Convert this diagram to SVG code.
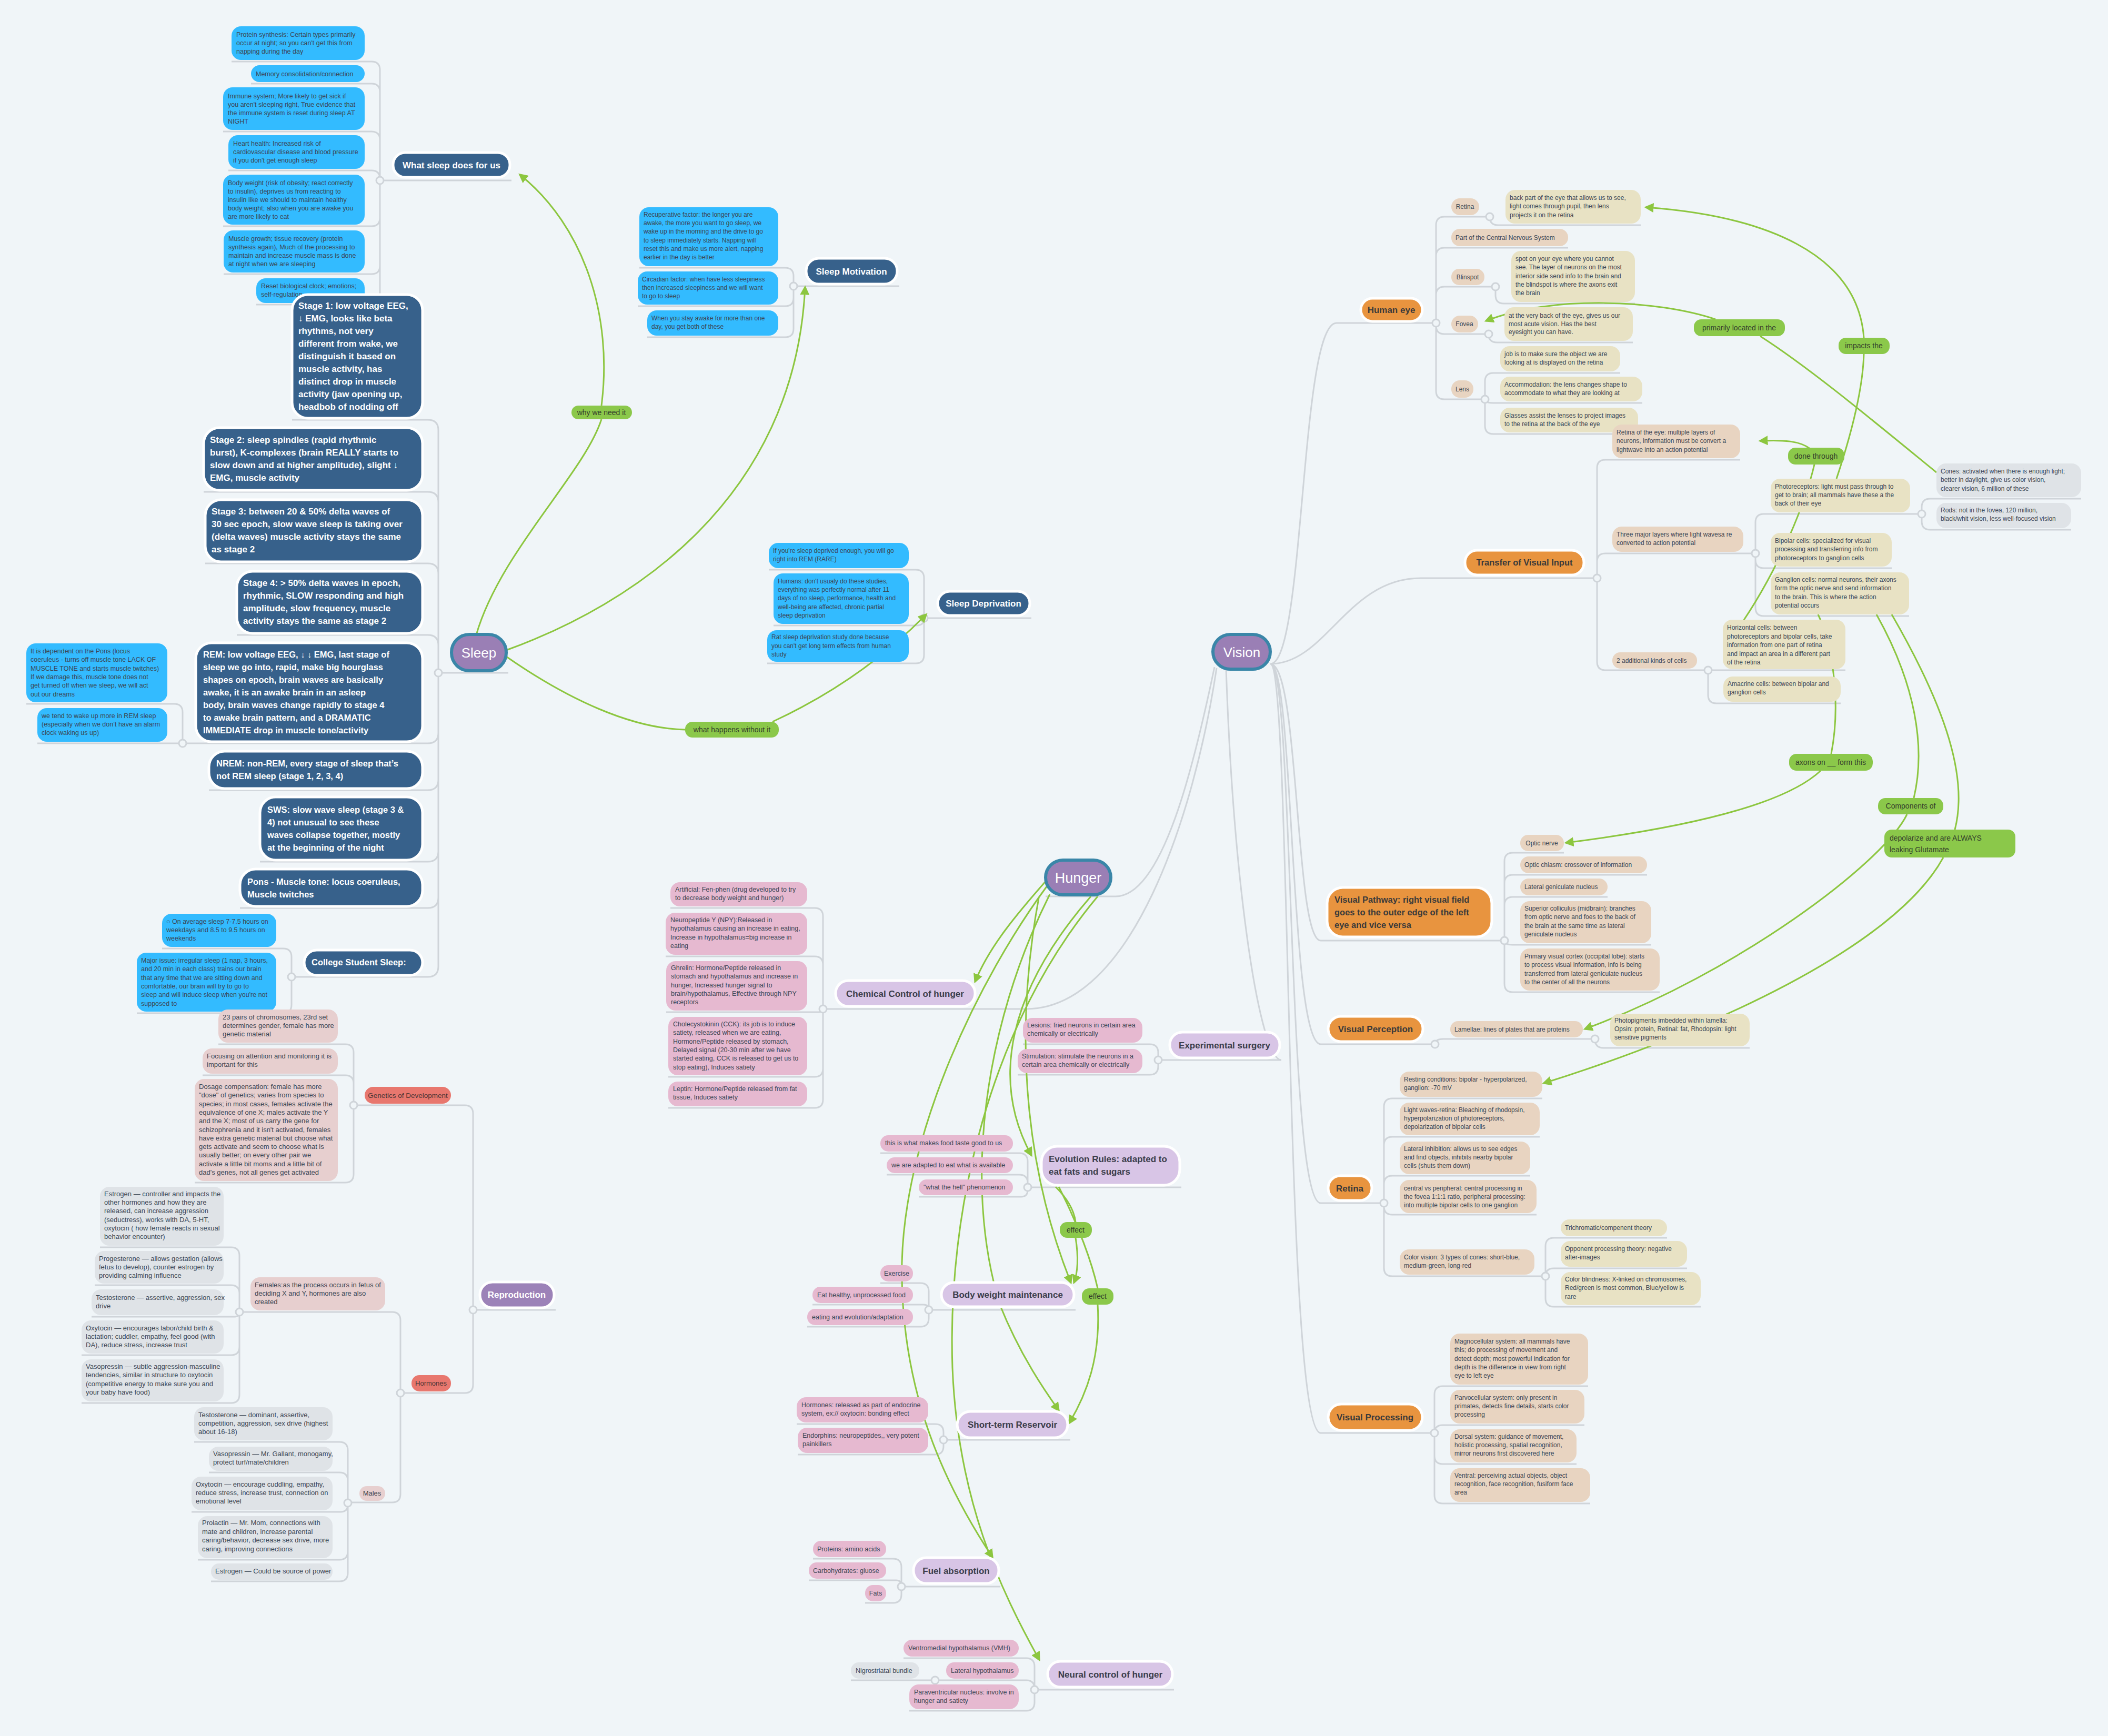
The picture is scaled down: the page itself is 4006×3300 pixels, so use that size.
<svg xmlns="http://www.w3.org/2000/svg" width="4006" height="3300" viewBox="0 0 4006 3300">
<defs>
<marker id="ar" viewBox="0 0 10 10" refX="8" refY="5" markerWidth="6" markerHeight="6" orient="auto"><path d="M0 0L10 5L0 10z" fill="#8cc63f"/></marker>
<style>
text{font-family:"Liberation Sans",Arial,sans-serif}
.ln{fill:none;stroke:#cfd4d9;stroke-width:3}
.gl{fill:none;stroke:#8cc63f;stroke-width:3}
.ga{fill:none;stroke:#8cc63f;stroke-width:3;marker-end:url(#ar)}
.jn{fill:#f0f5f8;stroke:#cfd4d9;stroke-width:3}
.cy{fill:#33bbff}
.db{fill:#37618b;stroke:#fff;stroke-width:5}
.ce{fill:#9a7fb5;stroke:#3a86a8;stroke-width:6}
.pu{fill:#d8c5e6;stroke:#fff;stroke-width:5}
.pk{fill:#e6b9d0}
.gr{fill:#dfe3e7}
.rp{fill:#e7cfcf}
.sa{fill:#e8776e}
.or{fill:#e8943f;stroke:#fff;stroke-width:5}
.tn{fill:#e8d4c1}
.kh{fill:#e8e2c4}
.gn{fill:#8bc84a}
.tl{font-size:12.5px;fill:#3b4654}
.tr{font-size:13px;fill:#3b4654}
.tv{font-size:12px;fill:#3b4654}
.ts{font-size:17px;font-weight:bold;fill:#fff}
.tb{font-size:16.5px;font-weight:bold;fill:#fff}
.th{font-size:17px;font-weight:bold;fill:#3b3d4a}
.to{font-size:17px;font-weight:bold;fill:#3a3a3a}
.tg{font-size:14px;fill:#34402c}
.tc{font-size:26px;fill:#fff}
.m{text-anchor:middle}
</style>
</defs>
<rect width="4006" height="3300" fill="#f0f5f8"/>
<g id="connectors">
<path class="ln" d="M440 117H706Q722 117 722 133V343M477 159H706Q722 159 722 175V343M424 250H706Q722 250 722 266V343M434 324H706Q722 324 722 340V343M424 430H706Q722 430 722 414V343M425 521H706Q722 521 722 505V343M487 579H706Q722 579 722 563V343M722 343H972"/>
<path class="ln" d="M555 798H813Q833 798 833 818V1279M387 935H813Q833 935 833 955V1279M390 1071H813Q833 1071 833 1091V1279M450 1207H813Q833 1207 833 1227V1279M347 1413H813Q833 1413 833 1393V1279M397 1502H813Q833 1502 833 1482V1279M494 1638H813Q833 1638 833 1618V1279M456 1726H813Q833 1726 833 1706V1279M554 1857H813Q833 1857 833 1837V1279M833 1279H966"/>
<path class="ln" d="M50 1338H331Q347 1338 347 1354V1413M71 1413H347M308 1803H538Q554 1803 554 1819V1857M260 1926H538Q554 1926 554 1910V1857"/>
<path class="ln" d="M1215 509H1492Q1508 509 1508 525V544M1212 582H1492Q1508 582 1508 566V544M1230 641H1492Q1508 641 1508 625V544M1508 544H1709M1461 1083H1740Q1756 1083 1756 1099V1175M1470 1189H1742Q1756 1189 1756 1175M1458 1261H1740Q1756 1261 1756 1245V1175M1756 1175H1960"/>
<path class="ln" d="M672 2101H883Q899 2101 899 2117V2490M761 2648H883Q899 2648 899 2632V2490M899 2490H1056M415 1985H656Q672 1985 672 2001V2101M385 2044H656Q672 2044 672 2060V2101M370 2248H656Q672 2248 672 2232V2101M455 2494H745Q761 2494 761 2510V2648M661 2856H745Q761 2856 761 2840V2648M190 2371H439Q455 2371 455 2387V2494M180 2443H439Q455 2443 455 2459V2494M174 2503H446Q455 2503 455 2494M155 2576H439Q455 2576 455 2560V2494M155 2667H439Q455 2667 455 2651V2494M369 2741H645Q661 2741 661 2757V2856M397 2799H645Q661 2799 661 2815V2856M364 2874H647Q661 2874 661 2860V2856M376 2965H645Q661 2965 661 2949V2856M401 3006H645Q661 3006 661 2990V2856"/>
<path class="ln" d="M1274 1726H1548Q1564 1726 1564 1742V1918M1265 1818H1548Q1564 1818 1564 1834V1918M1266 1924H1556Q1564 1924 1564 1918M1270 2047H1548Q1564 2047 1564 2031V1918M1270 2106H1548Q1564 2106 1564 2090V1918M1564 1918H1856M1944 1985H2185Q2201 1985 2201 2001V2015M1934 2043H2185Q2201 2043 2201 2027V2015M2201 2015H2435M1673 2192H1937Q1953 2192 1953 2208V2257M1685 2233H1937Q1953 2233 1953 2249V2257M1746 2275H1940Q1953 2275 1953 2262V2257M1953 2257H2245M1673 2439H1749Q1765 2439 1765 2455V2490M1544 2480H1755Q1765 2480 1765 2490M1534 2522H1749Q1765 2522 1765 2506V2490M1765 2490H2044M1514 2707H1777Q1793 2707 1793 2723V2737M1516 2765H1777Q1793 2765 1793 2749V2737M1793 2737H2034M1545 2963H1697Q1713 2963 1713 2979V3016M1537 3004H1703Q1713 3004 1713 3014V3016M1644 3047H1697Q1713 3047 1713 3031V3016M1713 3016H1901M1717 3152H1950Q1966 3152 1966 3168V3212M1777 3194H1950Q1966 3194 1966 3210V3212M1728 3252H1950Q1966 3252 1966 3236V3212M1966 3212H2231M1617 3194H1777"/>
<path class="ln" d="M1987 1704H2120C2210 1704 2270 1450 2308 1268M1856 1918H1950C2150 1918 2270 1550 2312 1270M2435 2015C2395 2015 2345 1700 2330 1272"/>
<path class="ln" d="M2414 1262C2480 1262 2470 614 2540 614H2729M2414 1262C2520 1262 2560 1099 2700 1099H3035M2414 1262C2470 1262 2460 1788 2510 1788H2859M2414 1262C2460 1262 2450 1985 2510 1985H2727M2414 1262C2460 1262 2445 2287 2510 2287H2630M2414 1262C2455 1262 2440 2724 2510 2724H2726"/>
<path class="ln" d="M2729 614V428Q2729 412 2745 412H2831M2729 614V487Q2729 471 2745 471H2980M2729 614V561Q2729 545 2745 545H2842M2729 614V619Q2729 635 2745 635H2829M2729 614V743Q2729 759 2745 759H2822M2831 412Q2831 428 2847 428H3118M2842 545V561Q2842 577 2858 577H3107M2829 635Q2829 651 2845 651H3103M2822 759V725Q2822 709 2838 709H3079M2822 759Q2822 766 2838 766H3121M2822 759V809Q2822 825 2838 825H3113"/>
<path class="ln" d="M3035 1099V890Q3035 874 3051 874H3307M3035 1099V1068Q3035 1052 3051 1052H3336M3035 1099V1258Q3035 1274 3051 1274H3246M3336 1052V993Q3336 977 3352 977H3652M3336 1052V1064Q3336 1080 3352 1080H3595M3336 1052V1155Q3336 1171 3352 1171H3628M3652 977V964Q3652 948 3668 948H3955M3652 977V991Q3652 1007 3668 1007H3936M3246 1274H3507M3246 1274V1321Q3246 1337 3262 1337H3498"/>
<path class="ln" d="M2859 1788V1637Q2859 1621 2875 1621H2972M2859 1788V1679Q2859 1663 2875 1663H3130M2859 1788V1721Q2859 1705 2875 1705H3055M2859 1788Q2859 1796 2875 1796H3138M2859 1788V1870Q2859 1886 2875 1886H3154M2727 1985Q2727 1975 2743 1975H3031M3031 1975Q3031 1992 3047 1992H3325M2630 2287V2104Q2630 2088 2646 2088H2931M2630 2287V2177Q2630 2161 2646 2161H2926M2630 2287V2251Q2630 2235 2646 2235H2908M2630 2287V2293Q2630 2309 2646 2309H2920M2630 2287V2410Q2630 2426 2646 2426H2937M2937 2426V2369Q2937 2353 2953 2353H3168M2937 2426Q2937 2411 2953 2411H3206M2937 2426V2468Q2937 2484 2953 2484H3232M2726 2724V2651Q2726 2635 2742 2635H3018M2726 2724Q2726 2709 2742 2709H3011M2726 2724V2767Q2726 2783 2742 2783H2996M2726 2724V2842Q2726 2858 2742 2858H3022"/>
<g>
<circle class="jn" cx="722" cy="343" r="7"/><circle class="jn" cx="833" cy="1279" r="7"/><circle class="jn" cx="347" cy="1413" r="7"/><circle class="jn" cx="554" cy="1857" r="7"/><circle class="jn" cx="1508" cy="544" r="7"/><circle class="jn" cx="1756" cy="1175" r="7"/><circle class="jn" cx="899" cy="2490" r="7"/><circle class="jn" cx="672" cy="2101" r="7"/><circle class="jn" cx="761" cy="2648" r="7"/><circle class="jn" cx="455" cy="2494" r="7"/><circle class="jn" cx="661" cy="2857" r="7"/><circle class="jn" cx="1564" cy="1918" r="7"/><circle class="jn" cx="2201" cy="2015" r="7"/><circle class="jn" cx="1953" cy="2257" r="7"/><circle class="jn" cx="1765" cy="2490" r="7"/><circle class="jn" cx="1793" cy="2737" r="7"/><circle class="jn" cx="1713" cy="3016" r="7"/><circle class="jn" cx="1966" cy="3212" r="7"/><circle class="jn" cx="1777" cy="3194" r="7"/><circle class="jn" cx="2729" cy="614" r="7"/><circle class="jn" cx="2831" cy="412" r="7"/><circle class="jn" cx="2842" cy="545" r="7"/><circle class="jn" cx="2829" cy="635" r="7"/><circle class="jn" cx="2822" cy="759" r="7"/><circle class="jn" cx="3035" cy="1099" r="7"/><circle class="jn" cx="3336" cy="1052" r="7"/><circle class="jn" cx="3652" cy="977" r="7"/><circle class="jn" cx="3246" cy="1274" r="7"/><circle class="jn" cx="2859" cy="1788" r="7"/><circle class="jn" cx="2727" cy="1985" r="7"/><circle class="jn" cx="3031" cy="1975" r="7"/><circle class="jn" cx="2630" cy="2287" r="7"/><circle class="jn" cx="2937" cy="2426" r="7"/><circle class="jn" cx="2726" cy="2724" r="7"/>
</g>
<path class="gl" d="M905 1207C950 1050 1110 900 1143 797"/>
<path class="ga" d="M1143 771C1165 600 1110 430 988 332"/>
<path class="ga" d="M962 1236C1200 1150 1510 950 1530 546"/>
<path class="gl" d="M962 1248C1080 1330 1200 1385 1302 1387"/>
<path class="ga" d="M1468 1372C1580 1320 1680 1250 1760 1168"/>
<path class="ga" d="M1990 1672C1930 1740 1880 1800 1853 1866"/>
<path class="ga" d="M1990 1684C1860 1860 1720 2150 1714 2400C1710 2650 1800 2830 1886 2960"/>
<path class="ga" d="M2073 1704C1920 1880 1880 2050 1960 2196"/>
<path class="ga" d="M1974 1707C1920 2000 1960 2250 2035 2438"/>
<path class="ga" d="M1995 1700C1870 1950 1830 2250 1900 2480C1940 2580 1990 2650 2012 2681"/>
<path class="ga" d="M2086 1704C1880 1950 1800 2300 1810 2600C1820 2850 1900 3020 1975 3155"/>
<path class="gl" d="M2006 2256Q2040 2290 2044 2323"/>
<path class="ga" d="M2044 2353C2050 2390 2048 2420 2041 2438"/>
<path class="gl" d="M2012 2256C2050 2330 2075 2400 2086 2449"/>
<path class="ga" d="M2086 2480C2092 2580 2065 2650 2032 2705"/>
<path class="gl" d="M3680 898C3560 800 3440 700 3345 639"/>
<path class="ga" d="M3260 607C3150 570 2950 560 2824 610"/>
<path class="gl" d="M3490 910C3520 820 3540 740 3542 673"/>
<path class="ga" d="M3542 642C3530 480 3350 410 3128 394"/>
<path class="gl" d="M3313 1180C3380 1080 3430 960 3448 883"/>
<path class="ga" d="M3440 853C3420 838 3390 836 3345 838"/>
<path class="gl" d="M3455 1168C3480 1220 3500 1330 3480 1433"/>
<path class="ga" d="M3460 1465C3380 1540 3150 1580 2976 1602"/>
<path class="gl" d="M3566 1168C3640 1300 3660 1420 3637 1517"/>
<path class="ga" d="M3624 1548C3580 1640 3300 1850 3012 1956"/>
<path class="gl" d="M3595 1168C3700 1350 3740 1480 3715 1577"/>
<path class="ga" d="M3693 1630C3600 1800 3250 1960 2934 2059"/>
</g>

<g id="sleep"><rect class="ce" x="858" y="1206" width="104" height="69" rx="34"/><text class="tc m" x="910" y="1250">Sleep</text></g>
<g id="hunger"><rect class="ce" x="1987" y="1635" width="124" height="66" rx="33"/><text class="tc m" x="2049" y="1678" style="font-size:27px">Hunger</text></g>
<g id="vision"><rect class="ce" x="2305" y="1206" width="109" height="66" rx="33"/><text class="tc m" x="2360" y="1249">Vision</text></g>

<g id="what-sleep-does"><rect class="db" x="747" y="290" width="222" height="47" rx="23"/><text class="ts m" x="858" y="320">What sleep does for us</text></g>
<g id="ws1"><rect class="cy" x="440" y="50" width="253" height="64" rx="18"/><text class="tl" x="449" y="70">Protein synthesis: Certain types primarily<tspan x="449" dy="16">occur at night; so you can't get this from</tspan><tspan x="449" dy="16">napping during the day</tspan></text></g>
<g id="ws2"><rect class="cy" x="477" y="124" width="216" height="32" rx="16"/><text class="tl" x="486" y="145">Memory consolidation/connection</text></g>
<g id="ws3"><rect class="cy" x="424" y="166" width="269" height="81" rx="18"/><text class="tl" x="433" y="187">Immune system; More likely to get sick if<tspan x="433" dy="16">you aren't sleeping right, True evidence that</tspan><tspan x="433" dy="16">the immune system is reset during sleep AT</tspan><tspan x="433" dy="16">NIGHT</tspan></text></g>
<g id="ws4"><rect class="cy" x="434" y="257" width="259" height="64" rx="18"/><text class="tl" x="443" y="277">Heart health: Increased risk of<tspan x="443" dy="16">cardiovascular disease and blood pressure</tspan><tspan x="443" dy="16">if you don't get enough sleep</tspan></text></g>
<g id="ws5"><rect class="cy" x="424" y="332" width="269" height="95" rx="18"/><text class="tl" x="433" y="352">Body weight (risk of obesity; react correctly<tspan x="433" dy="16">to insulin), deprives us from reacting to</tspan><tspan x="433" dy="16">insulin like we should to maintain healthy</tspan><tspan x="433" dy="16">body weight; also when you are awake you</tspan><tspan x="433" dy="16">are more likely to eat</tspan></text></g>
<g id="ws6"><rect class="cy" x="425" y="438" width="268" height="80" rx="18"/><text class="tl" x="434" y="458">Muscle growth; tissue recovery (protein<tspan x="434" dy="16">synthesis again), Much of the processing to</tspan><tspan x="434" dy="16">maintain and increase muscle mass is done</tspan><tspan x="434" dy="16">at night when we are sleeping</tspan></text></g>
<g id="ws7"><rect class="cy" x="487" y="529" width="206" height="47" rx="18"/><text class="tl" x="496" y="548">Reset biological clock; emotions;<tspan x="496" dy="16">self-regulation</tspan></text></g>

<g id="stage1"><rect class="db" x="555" y="560" width="248" height="235" rx="30"/><text class="ts" x="567" y="587">Stage 1:  low voltage EEG,<tspan x="567" dy="24">↓  EMG, looks like beta</tspan><tspan x="567" dy="24">rhythms, not very</tspan><tspan x="567" dy="24">different from wake, we</tspan><tspan x="567" dy="24">distinguish it based on</tspan><tspan x="567" dy="24">muscle activity, has</tspan><tspan x="567" dy="24">distinct drop in muscle</tspan><tspan x="567" dy="24">activity (jaw opening up,</tspan><tspan x="567" dy="24">headbob of nodding off</tspan></text></g>
<g id="stage2"><rect class="db" x="387" y="813" width="416" height="119" rx="30"/><text class="ts" x="399" y="842">Stage 2:  sleep spindles (rapid rhythmic<tspan x="399" dy="24">burst), K-complexes (brain REALLY starts to</tspan><tspan x="399" dy="24">slow down and at higher amplitude), slight ↓</tspan><tspan x="399" dy="24">EMG, muscle activity</tspan></text></g>
<g id="stage3"><rect class="db" x="390" y="950" width="413" height="118" rx="30"/><text class="ts" x="402" y="978">Stage 3:  between 20 &amp; 50% delta waves of<tspan x="402" dy="24">30 sec epoch, slow wave sleep is taking over</tspan><tspan x="402" dy="24">(delta waves) muscle activity stays the same</tspan><tspan x="402" dy="24">as stage 2</tspan></text></g>
<g id="stage4"><rect class="db" x="450" y="1086" width="353" height="118" rx="30"/><text class="ts" x="462" y="1114">Stage 4:  &gt; 50% delta waves in epoch,<tspan x="462" dy="24">rhythmic, SLOW responding and high</tspan><tspan x="462" dy="24">amplitude, slow frequency, muscle</tspan><tspan x="462" dy="24">activity stays the same as stage 2</tspan></text></g>
<g id="rem"><rect class="db" x="372" y="1222" width="431" height="188" rx="30"/><text class="tb" x="386" y="1250">REM: low voltage EEG, ↓  ↓  EMG, last stage of<tspan x="386" dy="24">sleep we go into, rapid, make big hourglass</tspan><tspan x="386" dy="24">shapes on epoch, brain waves are basically</tspan><tspan x="386" dy="24">awake, it is an awake brain in an asleep</tspan><tspan x="386" dy="24">body, brain waves change rapidly to stage 4</tspan><tspan x="386" dy="24">to awake brain pattern, and a DRAMATIC</tspan><tspan x="386" dy="24">IMMEDIATE drop in muscle tone/activity</tspan></text></g>
<g id="nrem"><rect class="db" x="397" y="1428" width="406" height="71" rx="30"/><text class="tb" x="411" y="1457">NREM: non-REM, every stage of sleep that’s<tspan x="411" dy="24">not REM sleep (stage 1, 2, 3, 4)</tspan></text></g>
<g id="sws"><rect class="db" x="494" y="1515" width="309" height="120" rx="30"/><text class="tb" x="508" y="1545">SWS: slow wave sleep (stage 3 &amp;<tspan x="508" dy="24">4) not unusual to see these</tspan><tspan x="508" dy="24">waves collapse together, mostly</tspan><tspan x="508" dy="24">at the beginning of the night</tspan></text></g>
<g id="pons"><rect class="db" x="456" y="1652" width="347" height="71" rx="30"/><text class="tb" x="470" y="1682">Pons - Muscle tone:  locus coeruleus,<tspan x="470" dy="24">Muscle twitches</tspan></text></g>
<g id="college"><rect class="db" x="578" y="1806" width="225" height="48" rx="24"/><text class="tb" x="592" y="1835">College Student Sleep:</text></g>
<g id="rem1"><rect class="cy" x="50" y="1223" width="268" height="112" rx="18"/><text class="tl" x="58" y="1242">It is dependent on the Pons (locus<tspan x="58" dy="16.3">coeruleus - turns off muscle tone LACK OF</tspan><tspan x="58" dy="16.3">MUSCLE TONE and starts muscle twitches)</tspan><tspan x="58" dy="16.3">If we damage this, muscle tone does not</tspan><tspan x="58" dy="16.3">get turned off when we sleep, we will act</tspan><tspan x="58" dy="16.3">out our dreams</tspan></text></g>
<g id="rem2"><rect class="cy" x="71" y="1346" width="247" height="64" rx="18"/><text class="tl" x="79" y="1365">we tend to wake up more in REM sleep<tspan x="79" dy="16">(especially when we don’t have an alarm</tspan><tspan x="79" dy="16">clock waking us up)</tspan></text></g>
<g id="col1"><rect class="cy" x="308" y="1737" width="217" height="63" rx="18"/><text class="tl" x="316" y="1756">○ On average sleep 7-7.5 hours on<tspan x="316" dy="16">weekdays and 8.5 to 9.5 hours on</tspan><tspan x="316" dy="16">weekends</tspan></text></g>
<g id="col2"><rect class="cy" x="260" y="1811" width="265" height="112" rx="18"/><text class="tl" x="268" y="1830">Major issue: irregular sleep  (1 nap, 3 hours,<tspan x="268" dy="16.3">and 20 min in each class) trains our brain</tspan><tspan x="268" dy="16.3">that any time that we are sitting down and</tspan><tspan x="268" dy="16.3">comfortable, our brain will try to go to</tspan><tspan x="268" dy="16.3">sleep and will induce sleep when you're not</tspan><tspan x="268" dy="16.3">supposed to</tspan></text></g>

<g id="sleep-motivation"><rect class="db" x="1532" y="491" width="173" height="49" rx="24"/><text class="ts m" x="1618" y="522">Sleep Motivation</text></g>
<g id="sm1"><rect class="cy" x="1215" y="394" width="264" height="112" rx="18"/><text class="tl" x="1223" y="412" style="font-size:12px">Recuperative factor: the longer you are<tspan x="1223" dy="16.2">awake, the more you want to go sleep, we</tspan><tspan x="1223" dy="16.2">wake up in the morning and the drive to go</tspan><tspan x="1223" dy="16.2">to sleep immediately starts. Napping will</tspan><tspan x="1223" dy="16.2">reset this and make us more alert, napping</tspan><tspan x="1223" dy="16.2">earlier in the day is better</tspan></text></g>
<g id="sm2"><rect class="cy" x="1212" y="516" width="267" height="63" rx="18"/><text class="tl" x="1220" y="535" style="font-size:12px">Circadian factor: when have less sleepiness<tspan x="1220" dy="16">then increased sleepiness and we will want</tspan><tspan x="1220" dy="16">to go to sleep</tspan></text></g>
<g id="sm3"><rect class="cy" x="1230" y="590" width="249" height="48" rx="18"/><text class="tl" x="1238" y="609" style="font-size:12px">When you stay awake for more than one<tspan x="1238" dy="16">day, you get both of these</tspan></text></g>
<g id="sleep-deprivation"><rect class="db" x="1782" y="1124" width="175" height="46" rx="23"/><text class="ts m" x="1869" y="1153">Sleep Deprivation</text></g>
<g id="sd1"><rect class="cy" x="1461" y="1032" width="266" height="48" rx="18"/><text class="tl" x="1469" y="1051" style="font-size:12px">If you're sleep deprived enough, you will go<tspan x="1469" dy="16">right into REM (RARE)</tspan></text></g>
<g id="sd2"><rect class="cy" x="1470" y="1090" width="257" height="96" rx="18"/><text class="tl" x="1478" y="1109" style="font-size:12px">Humans: don't usualy do these studies,<tspan x="1478" dy="16.2">everything was perfectly normal after 11</tspan><tspan x="1478" dy="16.2">days of no sleep, performance, health and</tspan><tspan x="1478" dy="16.2">well-being are affected, chronic partial</tspan><tspan x="1478" dy="16.2">sleep deprivation</tspan></text></g>
<g id="sd3"><rect class="cy" x="1458" y="1198" width="269" height="60" rx="18"/><text class="tl" x="1466" y="1215" style="font-size:12px">Rat sleep deprivation study done because<tspan x="1466" dy="16.5">you can't get long term effects from human</tspan><tspan x="1466" dy="16.5">study</tspan></text></g>

<g id="reproduction"><rect x="912" y="2437" width="141" height="49" rx="24" fill="#9c82b8" stroke="#fff" stroke-width="5"/><text class="ts m" x="982" y="2467">Reproduction</text></g>
<g id="genetics"><rect class="sa" x="693" y="2066" width="164" height="32" rx="16"/><text class="tr m" x="775" y="2087" style="font-size:13.5px;fill:#4a3434">Genetics of Development</text></g>
<g id="hormones"><rect class="sa" x="782" y="2614" width="75" height="31" rx="15"/><text class="tr m" x="819" y="2634" style="fill:#4a3434">Hormones</text></g>
<g id="g1"><rect class="rp" x="415" y="1919" width="227" height="63" rx="18"/><text class="tr" x="423" y="1938">23 pairs of chromosomes, 23rd set<tspan x="423" dy="16">determines gender, female has more</tspan><tspan x="423" dy="16">genetic material</tspan></text></g>
<g id="g2"><rect class="rp" x="385" y="1993" width="257" height="48" rx="18"/><text class="tr" x="393" y="2012">Focusing on attention and monitoring it is<tspan x="393" dy="16">important for this</tspan></text></g>
<g id="g3"><rect class="rp" x="370" y="2051" width="272" height="194" rx="18"/><text class="tr" x="378" y="2070">Dosage compensation: female has more<tspan x="378" dy="16.3">"dose" of genetics; varies from species to</tspan><tspan x="378" dy="16.3">species; in most cases, females activate the</tspan><tspan x="378" dy="16.3">equivalence of one X; males activate the Y</tspan><tspan x="378" dy="16.3">and the X; most of us carry the gene for</tspan><tspan x="378" dy="16.3">schizophrenia and it isn't activated, females</tspan><tspan x="378" dy="16.3">have extra genetic material but choose what</tspan><tspan x="378" dy="16.3">gets activate and seem to choose what is</tspan><tspan x="378" dy="16.3">usually better; on every other pair we</tspan><tspan x="378" dy="16.3">activate a little bit moms and a little bit of</tspan><tspan x="378" dy="16.3">dad's genes, not all genes get activated</tspan></text></g>
<g id="females"><rect class="rp" x="476" y="2428" width="256" height="63" rx="18"/><text class="tr" x="484" y="2447">Females:as the process occurs in fetus of<tspan x="484" dy="16">deciding X and Y, hormones are also</tspan><tspan x="484" dy="16">created</tspan></text></g>
<g id="males"><rect class="rp" x="683" y="2825" width="49" height="28" rx="14"/><text class="tr m" x="707" y="2843">Males</text></g>
<g id="f1"><rect class="gr" x="190" y="2256" width="235" height="112" rx="18"/><text class="tr" x="198" y="2274">Estrogen — controller and impacts the<tspan x="198" dy="16.2">other hormones and how they are</tspan><tspan x="198" dy="16.2">released, can increase aggression</tspan><tspan x="198" dy="16.2">(seductress), works with DA, 5-HT,</tspan><tspan x="198" dy="16.2">oxytocin ( how female reacts in sexual</tspan><tspan x="198" dy="16.2">behavior encounter)</tspan></text></g>
<g id="f2"><rect class="gr" x="180" y="2378" width="245" height="62" rx="18"/><text class="tr" x="188" y="2397">Progesterone — allows gestation (allows<tspan x="188" dy="16">fetus to develop), counter estrogen by</tspan><tspan x="188" dy="16">providing calming influence</tspan></text></g>
<g id="f3"><rect class="gr" x="174" y="2451" width="251" height="49" rx="18"/><text class="tr" x="182" y="2471">Testosterone — assertive, aggression, sex<tspan x="182" dy="16">drive</tspan></text></g>
<g id="f4"><rect class="gr" x="155" y="2510" width="270" height="63" rx="18"/><text class="tr" x="163" y="2529">Oxytocin — encourages labor/child birth &amp;<tspan x="163" dy="16">lactation; cuddler, empathy, feel good (with</tspan><tspan x="163" dy="16">DA), reduce stress, increase trust</tspan></text></g>
<g id="f5"><rect class="gr" x="155" y="2584" width="270" height="80" rx="18"/><text class="tr" x="163" y="2602">Vasopressin — subtle aggression-masculine<tspan x="163" dy="16.3">tendencies, similar in structure to oxytocin</tspan><tspan x="163" dy="16.3">(competitive energy to make sure you and</tspan><tspan x="163" dy="16.3">your baby have food)</tspan></text></g>
<g id="m1"><rect class="gr" x="369" y="2675" width="263" height="63" rx="18"/><text class="tr" x="377" y="2694">Testosterone — dominant, assertive,<tspan x="377" dy="16">competition, aggression, sex drive (highest</tspan><tspan x="377" dy="16">about 16-18)</tspan></text></g>
<g id="m2"><rect class="gr" x="397" y="2750" width="235" height="46" rx="18"/><text class="tr" x="405" y="2768">Vasopressin — Mr. Gallant, monogamy,<tspan x="405" dy="16">protect turf/mate/children</tspan></text></g>
<g id="m3"><rect class="gr" x="364" y="2807" width="268" height="64" rx="18"/><text class="tr" x="372" y="2826">Oxytocin — encourage cuddling, empathy,<tspan x="372" dy="16">reduce stress, increase trust, connection on</tspan><tspan x="372" dy="16">emotional level</tspan></text></g>
<g id="m4"><rect class="gr" x="376" y="2882" width="256" height="80" rx="18"/><text class="tr" x="384" y="2899">Prolactin — Mr. Mom, connections with<tspan x="384" dy="16.5">mate and children, increase parental</tspan><tspan x="384" dy="16.5">caring/behavior, decrease sex drive, more</tspan><tspan x="384" dy="16.5">caring,  improving connections</tspan></text></g>
<g id="m5"><rect class="gr" x="401" y="2972" width="231" height="31" rx="15"/><text class="tr" x="409" y="2991">Estrogen — Could be source of power</text></g>

<g id="chemical"><rect class="pu" x="1588" y="1864" width="265" height="49" rx="24"/><text class="th m" x="1720" y="1895">Chemical Control of hunger</text></g>
<g id="h1"><rect class="pk" x="1274" y="1677" width="260" height="46" rx="18"/><text class="tl" x="1283" y="1695">Artificial: Fen-phen (drug developed to try<tspan x="1283" dy="16">to decrease body weight and hunger)</tspan></text></g>
<g id="h2"><rect class="pk" x="1265" y="1735" width="269" height="80" rx="18"/><text class="tl" x="1274" y="1753">Neuropeptide Y (NPY):Released in<tspan x="1274" dy="16.3">hypothalamus causing an increase in eating,</tspan><tspan x="1274" dy="16.3">Increase in hypothalamus=big increase in</tspan><tspan x="1274" dy="16.3">eating</tspan></text></g>
<g id="h3"><rect class="pk" x="1266" y="1827" width="268" height="94" rx="18"/><text class="tl" x="1275" y="1844">Ghrelin: Hormone/Peptide released in<tspan x="1275" dy="16.3">stomach and hypothalamus and increase in</tspan><tspan x="1275" dy="16.3">hunger, Increased hunger signal to</tspan><tspan x="1275" dy="16.3">brain/hypothalamus, Effective through NPY</tspan><tspan x="1275" dy="16.3">receptors</tspan></text></g>
<g id="h4"><rect class="pk" x="1270" y="1933" width="264" height="111" rx="18"/><text class="tl" x="1279" y="1951">Cholecystokinin (CCK): its job is to induce<tspan x="1279" dy="16.3">satiety, released when we are eating,</tspan><tspan x="1279" dy="16.3">Hormone/Peptide released by stomach,</tspan><tspan x="1279" dy="16.3">Delayed signal (20-30 min after we have</tspan><tspan x="1279" dy="16.3">started eating, CCK is released to get us to</tspan><tspan x="1279" dy="16.3">stop eating), Induces satiety</tspan></text></g>
<g id="h5"><rect class="pk" x="1270" y="2056" width="264" height="47" rx="18"/><text class="tl" x="1279" y="2074">Leptin: Hormone/Peptide released from fat<tspan x="1279" dy="16">tissue, Induces satiety</tspan></text></g>
<g id="experimental"><rect class="pu" x="2223" y="1962" width="209" height="49" rx="24"/><text class="th m" x="2327" y="1993">Experimental surgery</text></g>
<g id="e1"><rect class="pk" x="1944" y="1935" width="227" height="47" rx="18"/><text class="tl" x="1952" y="1953">Lesions: fried neurons in certain area<tspan x="1952" dy="16">chemically or electrically</tspan></text></g>
<g id="e2"><rect class="pk" x="1934" y="1994" width="237" height="46" rx="18"/><text class="tl" x="1942" y="2012">Stimulation: stimulate the neurons in a<tspan x="1942" dy="16">certain area chemically or electrically</tspan></text></g>
<g id="evolution"><rect class="pu" x="1979" y="2179" width="263" height="74" rx="30"/><text class="th" x="1993" y="2209">Evolution Rules: adapted to<tspan x="1993" dy="24">eat fats and sugars</tspan></text></g>
<g id="ev1"><rect class="pk" x="1673" y="2158" width="252" height="31" rx="15"/><text class="tl" x="1682" y="2177">this is what makes food taste good to us</text></g>
<g id="ev2"><rect class="pk" x="1685" y="2200" width="240" height="30" rx="15"/><text class="tl" x="1694" y="2219">we are adapted to eat what is available</text></g>
<g id="ev3"><rect class="pk" x="1746" y="2242" width="179" height="30" rx="15"/><text class="tl" x="1755" y="2261">"what the hell" phenomenon</text></g>
<g id="bodyweight"><rect class="pu" x="1789" y="2438" width="252" height="46" rx="23"/><text class="th m" x="1915" y="2467">Body weight maintenance</text></g>
<g id="b1"><rect class="pk" x="1673" y="2405" width="62" height="31" rx="15"/><text class="tl m" x="1704" y="2425">Exercise</text></g>
<g id="b2"><rect class="pk" x="1544" y="2446" width="191" height="31" rx="15"/><text class="tl" x="1553" y="2466">Eat healthy, unprocessed food</text></g>
<g id="b3"><rect class="pk" x="1534" y="2488" width="201" height="31" rx="15"/><text class="tl" x="1543" y="2508">eating and evolution/adaptation</text></g>
<g id="shortterm"><rect class="pu" x="1819" y="2683" width="210" height="50" rx="25"/><text class="th m" x="1924" y="2714">Short-term Reservoir</text></g>
<g id="st1"><rect class="pk" x="1514" y="2656" width="250" height="48" rx="18"/><text class="tl" x="1523" y="2675">Hormones: released as part of endocrine<tspan x="1523" dy="16">system, ex:// oxytocin: bonding effect</tspan></text></g>
<g id="st2"><rect class="pk" x="1516" y="2714" width="248" height="48" rx="18"/><text class="tl" x="1525" y="2733">Endorphins: neuropeptides,, very potent<tspan x="1525" dy="16">painkillers</tspan></text></g>
<g id="fuel"><rect class="pu" x="1736" y="2961" width="162" height="49" rx="24"/><text class="th m" x="1817" y="2992">Fuel absorption</text></g>
<g id="fu1"><rect class="pk" x="1545" y="2929" width="139" height="31" rx="15"/><text class="tl" x="1553" y="2949">Proteins: amino acids</text></g>
<g id="fu2"><rect class="pk" x="1537" y="2970" width="147" height="31" rx="15"/><text class="tl" x="1545" y="2990">Carbohydrates: gluose</text></g>
<g id="fu3"><rect class="pk" x="1644" y="3013" width="40" height="31" rx="15"/><text class="tl m" x="1664" y="3033">Fats</text></g>
<g id="neural"><rect class="pu" x="1991" y="3158" width="237" height="49" rx="24"/><text class="th m" x="2110" y="3189">Neural control of hunger</text></g>
<g id="n1"><rect class="pk" x="1717" y="3117" width="219" height="32" rx="16"/><text class="tl" x="1726" y="3137">Ventromedial hypothalamus (VMH)</text></g>
<g id="n2"><rect class="pk" x="1798" y="3160" width="138" height="31" rx="15"/><text class="tl" x="1807" y="3180">Lateral hypothalamus</text></g>
<g id="n3"><rect class="gr" x="1617" y="3160" width="130" height="31" rx="15"/><text class="tl" x="1626" y="3180">Nigrostriatal bundle</text></g>
<g id="n4"><rect class="pk" x="1728" y="3202" width="208" height="47" rx="18"/><text class="tl" x="1737" y="3221">Paraventricular nucleus: involve in<tspan x="1737" dy="16">hunger and satiety</tspan></text></g>

<g id="humaneye"><rect class="or" x="2586" y="567" width="117" height="44" rx="22"/><text class="to m" x="2644" y="595">Human eye</text></g>
<g id="he1"><rect class="tn" x="2758" y="377" width="53" height="32" rx="16"/><text class="tv m" x="2784" y="397">Retina</text></g>
<g id="he1a"><rect class="kh" x="2861" y="361" width="257" height="64" rx="18"/><text class="tv" x="2869" y="380">back part of the eye that allows us to see,<tspan x="2869" dy="16.3">light comes through pupil, then lens</tspan><tspan x="2869" dy="16.3">projects it on the retina</tspan></text></g>
<g id="he2"><rect class="tn" x="2758" y="435" width="222" height="33" rx="16"/><text class="tv" x="2766" y="456">Part of the Central Nervous System</text></g>
<g id="he3"><rect class="tn" x="2758" y="511" width="63" height="31" rx="15"/><text class="tv m" x="2789" y="531">Blinspot</text></g>
<g id="he3a"><rect class="kh" x="2872" y="477" width="235" height="97" rx="18"/><text class="tv" x="2880" y="496">spot on your eye where you cannot<tspan x="2880" dy="16.3">see. The layer of neurons on the most</tspan><tspan x="2880" dy="16.3">interior side send info to the brain and</tspan><tspan x="2880" dy="16.3">the blindspot is where the axons exit</tspan><tspan x="2880" dy="16.3">the brain</tspan></text></g>
<g id="he4"><rect class="tn" x="2758" y="600" width="51" height="32" rx="16"/><text class="tv m" x="2783" y="620">Fovea</text></g>
<g id="he4a"><rect class="kh" x="2859" y="584" width="244" height="64" rx="18"/><text class="tv" x="2867" y="604">at the very back of the eye, gives us our<tspan x="2867" dy="15.7">most acute vision. Has the best</tspan><tspan x="2867" dy="15.7">eyesight you can have.</tspan></text></g>
<g id="he5"><rect class="tn" x="2758" y="723" width="42" height="33" rx="16"/><text class="tv m" x="2779" y="744">Lens</text></g>
<g id="he5a"><rect class="kh" x="2851" y="658" width="228" height="48" rx="18"/><text class="tv" x="2859" y="677">job is to make sure the object we are<tspan x="2859" dy="16">looking at is displayed on the retina</tspan></text></g>
<g id="he5b"><rect class="kh" x="2851" y="716" width="270" height="47" rx="18"/><text class="tv" x="2859" y="735">Accommodation: the lens changes shape to<tspan x="2859" dy="16">accommodate to what they are looking at</tspan></text></g>
<g id="he5c"><rect class="kh" x="2851" y="775" width="262" height="47" rx="18"/><text class="tv" x="2859" y="794">Glasses assist the lenses to project images<tspan x="2859" dy="16">to the retina at the back of the eye</tspan></text></g>

<g id="transfer"><rect class="or" x="2784" y="1046" width="226" height="47" rx="23"/><text class="to m" x="2897" y="1075" style="font-size:16.5px">Transfer of Visual Input</text></g>
<g id="t1"><rect class="tn" x="3064" y="807" width="243" height="64" rx="18"/><text class="tv" x="3072" y="826">Retina of the eye: multiple layers of<tspan x="3072" dy="16.3">neurons, information must be convert a</tspan><tspan x="3072" dy="16.3">lightwave into an action potential</tspan></text></g>
<g id="t2"><rect class="tn" x="3064" y="1001" width="249" height="48" rx="18"/><text class="tv" x="3072" y="1020">Three major layers where light wavesa re<tspan x="3072" dy="16">converted to action potential</tspan></text></g>
<g id="t3"><rect class="tn" x="3064" y="1240" width="161" height="31" rx="15"/><text class="tv" x="3072" y="1260">2 additional kinds of cells</text></g>
<g id="t2a"><rect class="kh" x="3365" y="910" width="265" height="64" rx="18"/><text class="tv" x="3373" y="929">Photoreceptors: light must pass through to<tspan x="3373" dy="16">get to brain; all mammals have these a the</tspan><tspan x="3373" dy="16">back of their eye</tspan></text></g>
<g id="t2b"><rect class="kh" x="3365" y="1013" width="230" height="64" rx="18"/><text class="tv" x="3373" y="1032">Bipolar cells: specialized for visual<tspan x="3373" dy="16.3">processing and transferring info from</tspan><tspan x="3373" dy="16.3">photoreceptors to ganglion cells</tspan></text></g>
<g id="t2c"><rect class="kh" x="3365" y="1088" width="263" height="80" rx="18"/><text class="tv" x="3373" y="1106">Ganglion cells: normal neurons, their axons<tspan x="3373" dy="16.3">form the optic nerve and send information</tspan><tspan x="3373" dy="16.3">to the brain. This is where the action</tspan><tspan x="3373" dy="16.3">potential occurs</tspan></text></g>
<g id="cones"><rect class="gr" x="3680" y="881" width="275" height="64" rx="18"/><text class="tv" x="3688" y="900">Cones: activated when there is enough light;<tspan x="3688" dy="16.3">better in daylight, give us color vision,</tspan><tspan x="3688" dy="16.3">clearer vision, 6 million of these</tspan></text></g>
<g id="rods"><rect class="gr" x="3680" y="956" width="256" height="48" rx="18"/><text class="tv" x="3688" y="974">Rods: not in the fovea, 120 million,<tspan x="3688" dy="16">black/whit vision, less well-focused vision</tspan></text></g>
<g id="t3a"><rect class="kh" x="3274" y="1178" width="233" height="94" rx="18"/><text class="tv" x="3282" y="1197">Horizontal cells: between<tspan x="3282" dy="16.5">photoreceptors and bipolar cells, take</tspan><tspan x="3282" dy="16.5">information from one part of retina</tspan><tspan x="3282" dy="16.5">and impact an area in a different part</tspan><tspan x="3282" dy="16.5">of the retina</tspan></text></g>
<g id="t3b"><rect class="kh" x="3275" y="1286" width="223" height="48" rx="18"/><text class="tv" x="3283" y="1304">Amacrine cells: between bipolar and<tspan x="3283" dy="16">ganglion cells</tspan></text></g>

<g id="pathway"><rect class="or" x="2522" y="1687" width="313" height="94" rx="30"/><text class="to" x="2536" y="1716" style="font-size:16.5px">Visual Pathway: right visual field<tspan x="2536" dy="24">goes to the outer edge of the left</tspan><tspan x="2536" dy="24">eye and vice versa</tspan></text></g>
<g id="p1"><rect class="tn" x="2889" y="1587" width="83" height="31" rx="15"/><text class="tv m" x="2930" y="1607">Optic nerve</text></g>
<g id="p2"><rect class="tn" x="2889" y="1628" width="241" height="32" rx="16"/><text class="tv" x="2897" y="1648">Optic chiasm: crossover of information</text></g>
<g id="p3"><rect class="tn" x="2889" y="1670" width="166" height="32" rx="16"/><text class="tv" x="2897" y="1690">Lateral geniculate nucleus</text></g>
<g id="p4"><rect class="tn" x="2889" y="1713" width="249" height="80" rx="18"/><text class="tv" x="2897" y="1731">Superior colliculus (midbrain): branches<tspan x="2897" dy="16.3">from optic nerve and foes to the back of</tspan><tspan x="2897" dy="16.3">the brain at the same time as lateral</tspan><tspan x="2897" dy="16.3">geniculate nucleus</tspan></text></g>
<g id="p5"><rect class="tn" x="2889" y="1803" width="265" height="80" rx="18"/><text class="tv" x="2897" y="1822">Primary visual cortex (occipital lobe): starts<tspan x="2897" dy="16.3">to process visual information, info is being</tspan><tspan x="2897" dy="16.3">transferred from lateral geniculate nucleus</tspan><tspan x="2897" dy="16.3">to the center of all the neurons</tspan></text></g>

<g id="perception"><rect class="or" x="2524" y="1932" width="180" height="48" rx="24"/><text class="to m" x="2614" y="1962">Visual Perception</text></g>
<g id="vp1"><rect class="tn" x="2756" y="1941" width="252" height="31" rx="15"/><text class="tv" x="2764" y="1961">Lamellae: lines of plates that are proteins</text></g>
<g id="vp1a"><rect class="kh" x="3060" y="1927" width="265" height="62" rx="18"/><text class="tv" x="3068" y="1944">Photopigments imbedded within lamella:<tspan x="3068" dy="16">Opsin: protein, Retinal: fat, Rhodopsin: light</tspan><tspan x="3068" dy="16">sensitive pigments</tspan></text></g>

<g id="retina"><rect class="or" x="2524" y="2235" width="83" height="47" rx="23"/><text class="to m" x="2565" y="2265">Retina</text></g>
<g id="r1"><rect class="tn" x="2660" y="2037" width="271" height="48" rx="18"/><text class="tv" x="2668" y="2056">Resting conditions: bipolar - hyperpolarized,<tspan x="2668" dy="16">ganglion: -70 mV</tspan></text></g>
<g id="r2"><rect class="tn" x="2660" y="2096" width="266" height="62" rx="18"/><text class="tv" x="2668" y="2114">Light waves-retina: Bleaching of rhodopsin,<tspan x="2668" dy="16">hyperpolarization of photoreceptors,</tspan><tspan x="2668" dy="16">depolarization of bipolar cells</tspan></text></g>
<g id="r3"><rect class="tn" x="2660" y="2170" width="248" height="62" rx="18"/><text class="tv" x="2668" y="2188">Lateral inhibition: allows us to see edges<tspan x="2668" dy="16">and find objects, inhibits nearby bipolar</tspan><tspan x="2668" dy="16">cells (shuts them down)</tspan></text></g>
<g id="r4"><rect class="tn" x="2660" y="2243" width="260" height="63" rx="18"/><text class="tv" x="2668" y="2263">central vs peripheral: central processing in<tspan x="2668" dy="16">the fovea 1:1:1 ratio, peripheral processing:</tspan><tspan x="2668" dy="16">into multiple bipolar cells to one ganglion</tspan></text></g>
<g id="r5"><rect class="tn" x="2660" y="2375" width="256" height="48" rx="18"/><text class="tv" x="2668" y="2394">Color vision: 3 types of cones: short-blue,<tspan x="2668" dy="16">medium-green, long-red</tspan></text></g>
<g id="r5a"><rect class="kh" x="2966" y="2318" width="202" height="32" rx="16"/><text class="tv" x="2974" y="2338">Trichromatic/compenent theory</text></g>
<g id="r5b"><rect class="kh" x="2966" y="2359" width="240" height="49" rx="18"/><text class="tv" x="2974" y="2378">Opponent processing theory: negative<tspan x="2974" dy="16">after-images</tspan></text></g>
<g id="r5c"><rect class="kh" x="2966" y="2418" width="266" height="63" rx="18"/><text class="tv" x="2974" y="2436">Color blindness: X-linked on chromosomes,<tspan x="2974" dy="16.3">Red/green is most common, Blue/yellow is</tspan><tspan x="2974" dy="16.3">rare</tspan></text></g>

<g id="processing"><rect class="or" x="2524" y="2669" width="179" height="50" rx="25"/><text class="to m" x="2613" y="2700">Visual Processing</text></g>
<g id="pr1"><rect class="tn" x="2756" y="2535" width="262" height="97" rx="18"/><text class="tv" x="2764" y="2554">Magnocellular system: all mammals have<tspan x="2764" dy="16.3">this; do processing of movement and</tspan><tspan x="2764" dy="16.3">detect depth; most powerful indication for</tspan><tspan x="2764" dy="16.3">depth is the difference in view from right</tspan><tspan x="2764" dy="16.3">eye to left eye</tspan></text></g>
<g id="pr2"><rect class="tn" x="2756" y="2642" width="255" height="64" rx="18"/><text class="tv" x="2764" y="2661">Parvocellular system: only present in<tspan x="2764" dy="16">primates, detects fine details, starts color</tspan><tspan x="2764" dy="16">processing</tspan></text></g>
<g id="pr3"><rect class="tn" x="2756" y="2717" width="240" height="63" rx="18"/><text class="tv" x="2764" y="2735">Dorsal system: guidance of movement,<tspan x="2764" dy="16">holistic processing, spatial recognition,</tspan><tspan x="2764" dy="16">mirror neurons first discovered here</tspan></text></g>
<g id="pr4"><rect class="tn" x="2756" y="2791" width="266" height="64" rx="18"/><text class="tv" x="2764" y="2809">Ventral: perceiving actual objects, object<tspan x="2764" dy="16">recognition, face recognition, fusiform face</tspan><tspan x="2764" dy="16">area</tspan></text></g>

<g id="labels">
<g id="lb1"><rect class="gn" x="1086" y="771" width="115" height="26" rx="13"/><text class="tg m" x="1143" y="789">why we need it</text></g>
<g id="lb2"><rect class="gn" x="1302" y="1372" width="178" height="30" rx="14"/><text class="tg m" x="1391" y="1392">what happens without it</text></g>
<g id="lb3"><rect class="gn" x="2014" y="2323" width="61" height="30" rx="14"/><text class="tg m" x="2044" y="2343">effect</text></g>
<g id="lb4"><rect class="gn" x="2056" y="2449" width="60" height="31" rx="14"/><text class="tg m" x="2086" y="2469">effect</text></g>
<g id="lb5"><rect class="gn" x="3219" y="607" width="173" height="32" rx="14"/><text class="tg m" x="3305" y="628">primarily located in the</text></g>
<g id="lb6"><rect class="gn" x="3494" y="642" width="97" height="31" rx="14"/><text class="tg m" x="3542" y="662">impacts the</text></g>
<g id="lb7"><rect class="gn" x="3398" y="851" width="107" height="32" rx="14"/><text class="tg m" x="3451" y="872">done through</text></g>
<g id="lb8"><rect class="gn" x="3400" y="1433" width="159" height="32" rx="14"/><text class="tg m" x="3479" y="1454">axons on __ form this</text></g>
<g id="lb9"><rect class="gn" x="3569" y="1517" width="124" height="31" rx="14"/><text class="tg m" x="3631" y="1537">Components of</text></g>
<g id="lb10"><rect class="gn" x="3581" y="1577" width="249" height="53" rx="14"/><text class="tg" x="3591" y="1598">depolarize and are ALWAYS<tspan x="3591" dy="22">leaking Glutamate</tspan></text></g>
</g>
</svg>
